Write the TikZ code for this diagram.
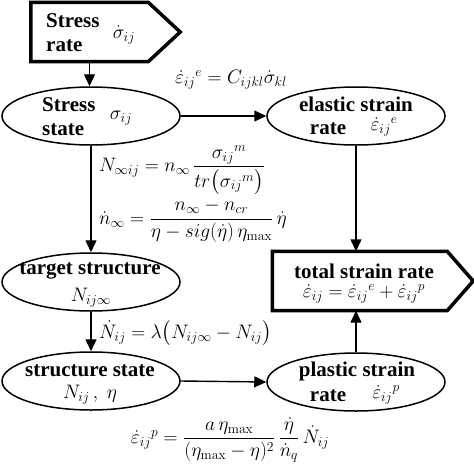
\RequirePackage{fix-cm}
\documentclass[tikz,border=0pt]{standalone}
\usepackage{amsmath}
\usepackage[no-math]{fontspec}
\setmainfont{Liberation Serif}
\usetikzlibrary{arrows.meta,shapes.geometric}
\begin{document}
\begin{tikzpicture}[x=1pt,y=-1pt,
  conn/.style={line width=1.4pt,-{Triangle[length=12pt,width=11pt]}},
  ell/.style={ellipse,draw,line width=1.5pt,minimum width=178pt,minimum height=58pt,inner sep=0pt},
  frame/.style={minimum width=#1,minimum height=59pt,inner sep=0pt},
  thickbox/.style={line width=3.5pt,line join=miter},
  lbl/.style={font=\fontsize{21}{23}\selectfont\bfseries,inner sep=0pt,align=left},
  mth/.style={font=\fontsize{19.5}{21}\selectfont,inner sep=0pt}]
\useasboundingbox (0,0) rectangle (474,469);
% stress rate
\node[frame=117pt] (sr) at (89.5,32) {};
\draw[thickbox] (sr.north west) -- (sr.north east) -- ([xshift=32pt]sr.east) -- (sr.south east) -- (sr.south west) -- cycle;
\node[lbl,anchor=west] (srt) at (46,33) {Stress\\[1pt]rate};
\node[mth] (srm) at (124,35) {$\dot{\sigma}_{ij}$};
% total strain rate
\node[frame=174.5pt] (tot) at (359.75,281) {};
\draw[thickbox] (tot.north west) -- (tot.north east) -- ([xshift=26pt]tot.east) -- (tot.south east) -- (tot.south west) -- cycle;
\node[lbl] (tott) at (364,271) {total strain rate};
\node[mth] (totm) at (364,294) {$\dot{\varepsilon}_{ij} = \dot{\varepsilon}_{ij}{}^{e} + \dot{\varepsilon}_{ij}{}^{p}$};
% ellipses
\node[ell] (ss) at (91,116) {};
\node[ell] (es) at (356,116) {};
\node[ell] (tg) at (91,282) {};
\node[ell] (st) at (91,381) {};
\node[ell] (ps) at (356,382) {};
% texts
\node[lbl,anchor=west] (sst) at (42,117) {Stress\\[1pt]state};
\node[mth] (ssm) at (121,118) {$\sigma_{ij}$};
\node[lbl] (est1) at (356,104) {elastic strain};
\node[lbl] (est2) at (328,129) {rate};
\node[mth] (esm) at (384,127) {$\dot{\varepsilon}_{ij}{}^{e}$};
\node[lbl] (tgt) at (90,271) {target structure};
\node[mth] (tgm) at (91,298) {$N_{ij\infty}$};
\node[lbl] (stt) at (90,371) {structure state};
\node[mth] (stm) at (90,395) {$N_{ij}\,,\;\eta$};
\node[lbl] (pst1) at (357,371) {plastic strain};
\node[lbl] (pst2) at (328,396) {rate};
\node[mth] (psm) at (386,395) {$\dot{\varepsilon}_{ij}{}^{p}$};
% equations
\node[mth] (eq1) at (231,80) {$\dot{\varepsilon}_{ij}{}^{e} = C_{ijkl}\dot{\sigma}_{kl}$};
\node[mth,anchor=west] (eq2) at (99,170) {$N_{\infty ij} = n_{\infty}\,\dfrac{\sigma_{ij}{}^{m}}{tr\big(\sigma_{ij}{}^{m}\big)}$};
\node[mth,anchor=west] (eq3) at (99,221) {$\dot{n}_{\infty} = \dfrac{n_{\infty}-n_{cr}}{\eta - sig(\dot{\eta})\,\eta_{\max}}\,\dot{\eta}$};
\node[mth,anchor=west] (eq4) at (99,333) {$\dot{N}_{ij} = \lambda\big(N_{ij\infty} - N_{ij}\big)$};
\node[mth] (eq5) at (230,440) {$\dot{\varepsilon}_{ij}{}^{p} = \dfrac{a\,\eta_{\max}}{(\eta_{\max}-\eta)^{2}}\,\dfrac{\dot{\eta}}{\dot{n}_{q}}\,\dot{N}_{ij}$};
% connectors
\draw[conn] (sr.south) -- (sr.south |- ss.north);
\draw[conn] (ss.east) -- (es.west);
\draw[conn] (es.south) -- (es.south |- tot.north);
\draw[conn] (ss.south) -- (tg.north);
\draw[conn] (tg.south) -- (st.north);
\draw[conn] (st.east) -- (ps.west);
\draw[conn] (ps.north) -- (ps.north |- tot.south);
\end{tikzpicture}
\end{document}
